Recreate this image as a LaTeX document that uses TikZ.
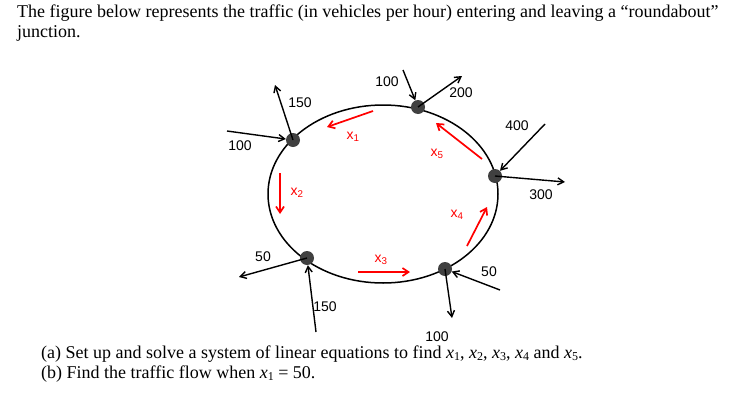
\documentclass[tikz,border=0pt]{standalone}
\usepackage{fontspec}
\setmainfont{Liberation Serif}
\newfontfamily\lab{Liberation Sans}
\usetikzlibrary{arrows.meta}
\newcommand{\xv}[1]{\textit{x}\raisebox{-0.25ex}{\fontsize{12}{12}\selectfont #1}}
\begin{document}
\begin{tikzpicture}[x=1pt,y=-1pt,
  dot/.style={circle,fill=black!75,inner sep=0pt,minimum size=14pt},
  flow/.style={-{Straight Barb[length=6pt,width=7pt]},line width=1.4pt},
  rflow/.style={-{Straight Barb[length=6pt,width=8pt]},line width=1.7pt,red},
  lb/.style={font=\lab\fontsize{14}{14}\selectfont,inner sep=0pt},
  rl/.style={font=\lab\fontsize{14}{14}\selectfont,inner sep=0pt,red},
  txt/.style={font=\fontsize{18}{20}\selectfont,inner sep=0pt,anchor=north west,align=left}]
\useasboundingbox (0,0) rectangle (734,410);
\node[txt] (t) at (17,5) {The figure below represents the traffic (in vehicles per hour) entering and leaving a “roundabout”\\junction.};
\draw[line width=1.5pt] (383,194) ellipse (115 and 89);
\node[dot] (A) at (293,140) {};
\node[dot] (B) at (418,107) {};
\node[dot] (C) at (495,176) {};
\node[dot] (D) at (445,269) {};
\node[dot] (E) at (307,258) {};
\coordinate (a1) at (227,131); \coordinate (a2) at (275,85);
\coordinate (b1) at (403,70); \coordinate (b2) at (462,76);
\coordinate (c1) at (545,124); \coordinate (c2) at (565,182);
\coordinate (d1) at (500,290); \coordinate (d2) at (452,318);
\coordinate (e1) at (316,332); \coordinate (e2) at (239,277);
\draw[flow] (a1) -- (A); \draw[flow] (A.center) -- (a2);
\draw[flow] (b1) -- (B); \draw[flow] (B.center) -- (b2);
\draw[flow] (c1) -- (C); \draw[flow] (C.center) -- (c2);
\draw[flow] (d1) -- (D); \draw[flow] (D.center) -- (d2);
\draw[flow] (e1) -- (E); \draw[flow] (E.center) -- (e2);
\node[lb] (l1) at (300,103) {150}; \node[lb] (l2) at (240,146) {100};
\node[lb] (l3) at (387,82) {100}; \node[lb] (l4) at (461,93) {200};
\node[lb] (l5) at (517,126) {400}; \node[lb] (l6) at (541,195) {300};
\node[lb] (l7) at (489,272) {50}; \node[lb] (l8) at (437,337) {100};
\node[lb] (l9) at (263,257) {50}; \node[lb] (l10) at (325,307) {150};
\coordinate (r1a) at (373,111); \coordinate (r1b) at (327,127);
\coordinate (r2a) at (280,173); \coordinate (r2b) at (280,214);
\coordinate (r3a) at (358,272); \coordinate (r3b) at (410,272);
\coordinate (r4a) at (467,246); \coordinate (r4b) at (487,207);
\coordinate (r5a) at (482,159); \coordinate (r5b) at (436,123);
\draw[rflow] (r1a) -- (r1b); \draw[rflow] (r2a) -- (r2b);
\draw[rflow] (r3a) -- (r3b); \draw[rflow] (r4a) -- (r4b);
\draw[rflow] (r5a) -- (r5b);
\node[rl] (x1) at (353,137) {x\textsubscript{1}};
\node[rl] (x2) at (297,193) {x\textsubscript{2}};
\node[rl] (x3) at (381,260) {x\textsubscript{3}};
\node[rl] (x4) at (457,215) {x\textsubscript{4}};
\node[rl] (x5) at (437,154) {x\textsubscript{5}};
\node[txt] (q) at (41,346) {(a) Set up and solve a system of linear equations to find \xv{1}, \xv{2}, \xv{3}, \xv{4} and \xv{5}.\\(b) Find the traffic flow when \xv{1} = 50.};
\end{tikzpicture}
\end{document}
